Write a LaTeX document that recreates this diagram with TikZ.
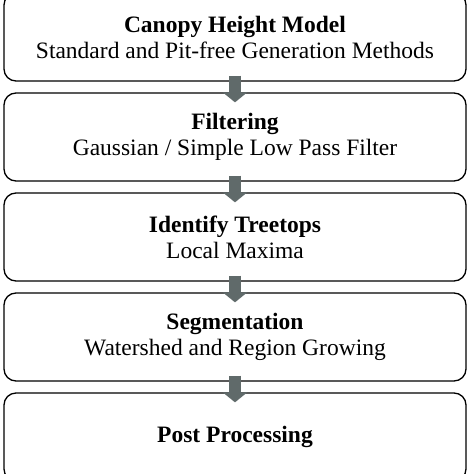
\documentclass[tikz,border=0pt]{standalone}
\usepackage{fontspec}
\setmainfont{Liberation Serif}
\usetikzlibrary{arrows.meta}
\definecolor{arrowgray}{RGB}{96,106,106}

\begin{document}
\begin{tikzpicture}[x=1pt,y=1pt,node distance=100pt,
                    stagebox/.style = {draw, line width=1.3pt, rounded corners=12pt,
                                       minimum width=462pt, minimum height=88pt,
                                       align=center, inner sep=0pt,
                                       font=\fontsize{23.5}{26}\selectfont},
                    flow/.style = {line width=12pt, arrowgray,
                                   -{Triangle[width=24pt,length=10pt]}}]
  \useasboundingbox (0,0) rectangle (474,-474);
  \clip (0,0) rectangle (474,-474);

  \node[stagebox] (chm)     at (235,-37)        {\textbf{Canopy Height Model}\\Standard and Pit-free Generation Methods};
  \node[stagebox] (filter)  [below of=chm]     {\textbf{Filtering}\\Gaussian / Simple Low Pass Filter};
  \node[stagebox] (tops)    [below of=filter]  {\textbf{Identify Treetops}\\Local Maxima};
  \node[stagebox] (segment) [below of=tops]    {\textbf{Segmentation}\\Watershed and Region Growing};
  \node[stagebox] (post)    [below of=segment] {\textbf{Post Processing}};

  \draw[flow] ([yshift=6pt]chm.south)     -- ([yshift=-10pt]filter.north);
  \draw[flow] ([yshift=6pt]filter.south)  -- ([yshift=-10pt]tops.north);
  \draw[flow] ([yshift=6pt]tops.south)    -- ([yshift=-10pt]segment.north);
  \draw[flow] ([yshift=6pt]segment.south) -- ([yshift=-10pt]post.north);
\end{tikzpicture}
\end{document}
